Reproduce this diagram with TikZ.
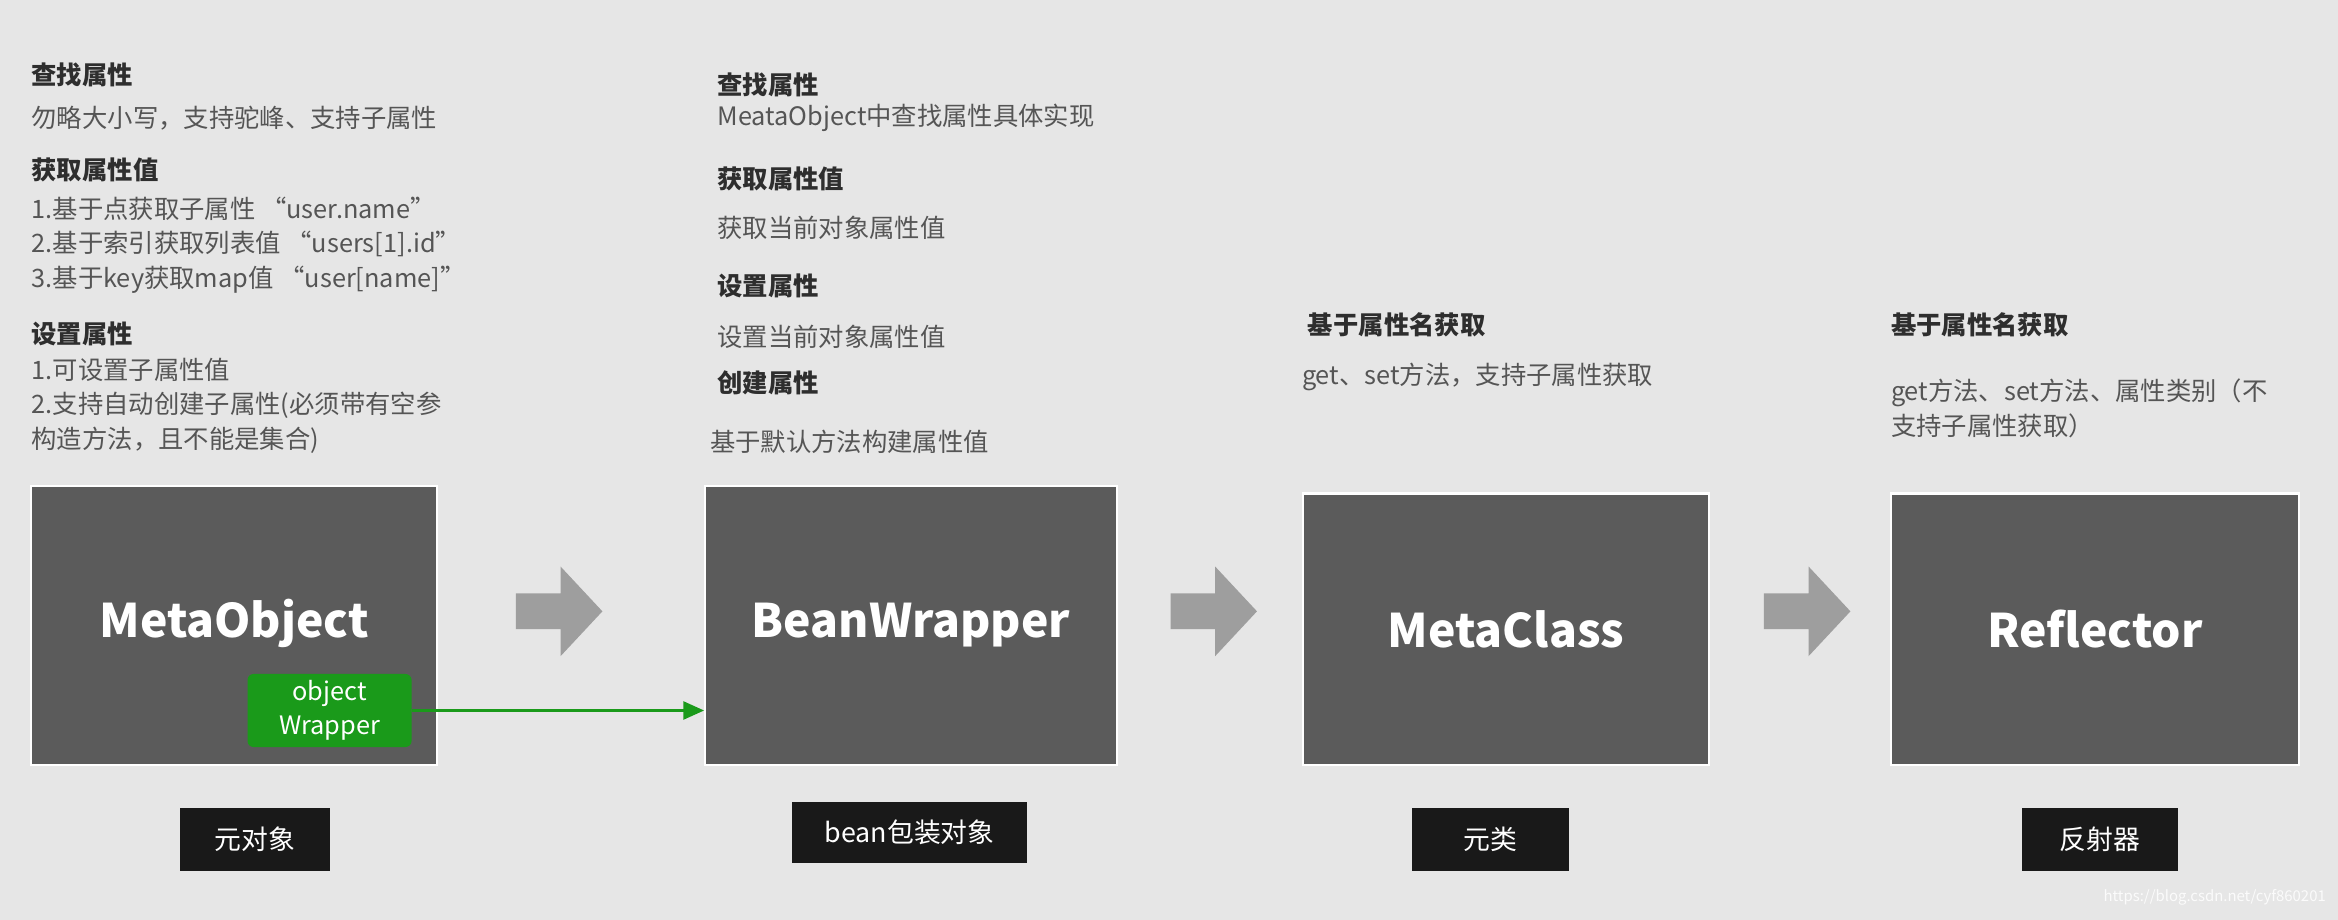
\documentclass[tikz,border=0pt]{standalone}
\usepackage{fontspec}
\setmainfont{Noto Sans CJK SC}
\newfontfamily\cjkb[BoldFont={* Bold}]{Noto Sans CJK SC}
\usetikzlibrary{arrows.meta}
\definecolor{bg}{HTML}{E6E6E6}
\definecolor{boxc}{HTML}{5B5B5B}
\definecolor{txt}{HTML}{555555}
\definecolor{hd}{HTML}{2E2E2E}
\definecolor{grn}{HTML}{1A9A1A}
\definecolor{arr}{HTML}{9E9E9E}
\begin{document}
\begin{tikzpicture}[x=1pt,y=-1pt,
  bigbox/.style={draw=white,line width=1.5pt,fill=boxc,text=white,font=\fontsize{31}{36}\selectfont\bfseries},
  lab/.style={fill=black!90,text=white,inner sep=0pt,font=\fontsize{18}{20}\selectfont},
  hdr/.style={anchor=west,inner sep=0pt,text=hd,font=\fontsize{17}{20}\selectfont\bfseries},
  bod/.style={anchor=west,inner sep=0pt,text=txt,font=\fontsize{17}{23}\selectfont,align=left},
  garrow/.style={fill=arr,draw=none}]
\fill[bg] (0,0) rectangle (1568,617);
\useasboundingbox (0,0) rectangle (1568,617);
% boxes
\node[bigbox,minimum width=272pt,minimum height=187pt] (mo) at (157,419.5) {};
\node[text=white,font=\fontsize{31}{36}\selectfont\bfseries] at (157,418) {MetaObject};
\node[bigbox,minimum width=276pt,minimum height=187pt] (bw) at (611,419.5) {BeanWrapper};
\node[bigbox,minimum width=272pt,minimum height=182pt] (mc) at (1010,422) {MetaClass};
\node[bigbox,minimum width=274pt,minimum height=182pt] (rf) at (1405,422) {Reflector};
% green
\node[fill=grn,rounded corners=4pt,minimum width=110pt,minimum height=49pt,text=white,align=center,inner sep=0pt,font=\fontsize{17}{23}\selectfont] (ow) at (221,476.5) {object\\Wrapper};
\draw[grn,line width=2pt,-{Triangle[length=14pt,width=12pt]}] (ow.east) -- (bw.west |- ow.east);
% gray arrows
\foreach \x/\n in {346/a1,785/a2,1183/a3}{
  \coordinate (\n) at (\x,410);
  \fill[arr] (\n) ++(0,-12) -- ++(30,0) -- ++(0,-18) -- ++(28,30) -- ++(-28,30) -- ++(0,-18) -- ++(-30,0) -- cycle;
}
% labels
\node[lab,minimum width=100pt,minimum height=42pt] (l1) at (171,563) {元对象};
\node[lab,minimum width=158pt,minimum height=41pt] (l2) at (610,558.5) {bean包装对象};
\node[lab,minimum width=105pt,minimum height=42pt] (l3) at (999.5,563) {元类};
\node[lab,minimum width=105pt,minimum height=42pt] (l4) at (1408.5,563) {反射器};
% column 1
\node[hdr] (c1a) at (21,50) {查找属性};
\node[bod] (c1b) at (21,79) {勿略大小写，支持驼峰、支持子属性};
\node[hdr] (c1c) at (21,114) {获取属性值};
\node[bod,anchor=north west] (c1d) at (21,132) {1.基于点获取子属性 “user.name”\\2.基于索引获取列表值 “users[1].id”\\3.基于key获取map值 “user[name]”};
\node[hdr] (c1e) at (21,224) {设置属性};
\node[bod,anchor=north west] (c1f) at (21,240) {1.可设置子属性值\\2.支持自动创建子属性(必须带有空参\\构造方法，且不能是集合)};
% column 2
\node[hdr] (c2a) at (481,57) {查找属性};
\node[bod] (c2b) at (481,79) {MeataObject中查找属性具体实现};
\node[hdr] (c2c) at (481,120) {获取属性值};
\node[bod] (c2d) at (481,153) {获取当前对象属性值};
\node[hdr] (c2e) at (481,192) {设置属性};
\node[bod] (c2f) at (481,226) {设置当前对象属性值};
\node[hdr] (c2g) at (481,257) {创建属性};
\node[bod] (c2h) at (476,296) {基于默认方法构建属性值};
% column 3
\node[hdr] (c3a) at (877,218) {基于属性名获取};
\node[bod] (c3b) at (873,253) {get、set方法，支持子属性获取};
% column 4
\node[hdr] (c4a) at (1268,218) {基于属性名获取};
\node[bod,anchor=north west] (c4b) at (1268,254) {get方法、set方法、属性类别（不\\支持子属性获取）};
% watermark
\node[anchor=east,inner sep=0pt,text=white!85!bg,font=\fontsize{10}{12}\selectfont] (wm) at (1560,602) {https://blog.csdn.net/cyf860201};
\end{tikzpicture}
\end{document}
